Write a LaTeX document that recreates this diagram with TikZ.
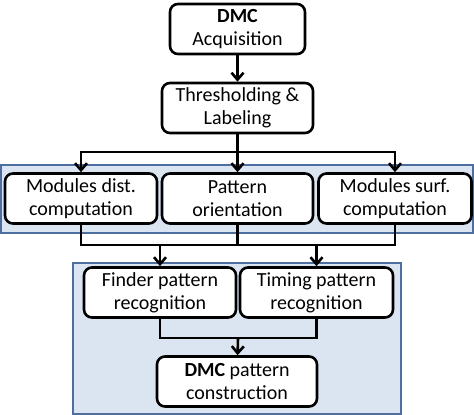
\documentclass[tikz,border=0pt]{standalone}
\usepackage{fontspec}
\setmainfont{Carlito}
\usetikzlibrary{arrows.meta}
\definecolor{bandfill}{RGB}{219,229,241}
\definecolor{bandline}{RGB}{79,110,160}
\begin{document}
\begin{tikzpicture}[x=1pt, y=-1pt, line width=2.6pt, >={Straight Barb[length=7pt, width=12pt]},
    stepbox/.style={draw, rounded corners=8pt, fill=white, align=center, inner sep=0pt,
      minimum height=50pt, font=\fontsize{20}{23}\selectfont},
    band/.style={draw=bandline, fill=bandfill, line width=1.3pt}]
    \useasboundingbox (0,0) rectangle (474,415);
    % shaded groups
    \fill[band] (1,165) rectangle (473,233);
    \fill[band] (73,263) rectangle (401,414);
    % steps
    \node [stepbox, minimum width=135pt] (acq) at (237.5,29) {\textbf{DMC}\\Acquisition};
    \node [stepbox, minimum width=151pt] (thr) at (237.5,108) {Thresholding \&\\Labeling};
    \node [stepbox, minimum width=152pt] (dist) at (81,198.5) {Modules dist.\\computation};
    \node [stepbox, minimum width=151pt] (orient) at (237.5,198.5) {Pattern\\orientation};
    \node [stepbox, minimum width=153pt] (surf) at (395,198.5) {Modules surf.\\computation};
    \node [stepbox, minimum width=152pt] (finder) at (160,292.5) {Finder pattern\\recognition};
    \node [stepbox, minimum width=153pt] (timing) at (316.5,292.5) {Timing pattern\\recognition};
    \node [stepbox, minimum width=160pt] (constr) at (237,381.5) {\textbf{DMC} pattern\\construction};
    \coordinate (split) at (237.5,152);
    \coordinate (merge) at (237.5,245);
    \coordinate (merge2) at (238,338);
    % connectors
    \draw [->] (acq) -- (thr);
    \draw (thr) -- (split);
    \draw [->] (split) -| (dist);
    \draw [->] (split) -- (orient);
    \draw [->] (split) -| (surf);
    \draw (dist.south) |- (merge) -| (surf.south);
    \draw (orient) -- (merge);
    \draw [->] (merge -| finder) -- (finder);
    \draw [->] (merge -| timing) -- (timing);
    \draw (finder.south) |- (merge2) -| (timing.south);
    \draw [->] (merge2) -- (constr);
\end{tikzpicture}
\end{document}
